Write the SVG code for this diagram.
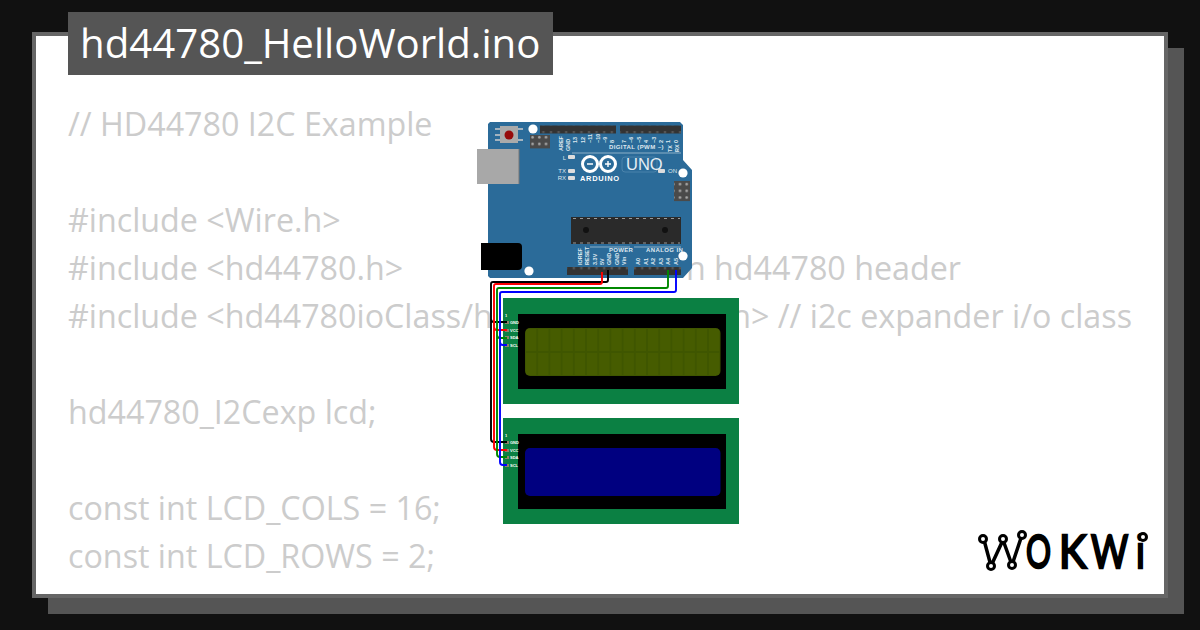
<svg xmlns="http://www.w3.org/2000/svg" width="1200" height="630" viewBox="0 0 1200 630">
<style>
.code{font-family:"Open Sans","Noto Sans",sans-serif;font-size:32.26px;fill:#ccc}
.title{font-family:"Open Sans","Noto Sans",sans-serif;font-size:40.2px;fill:#fff}
.hdr{fill:url(#holes)}
.pcb{font-family:"Liberation Sans",sans-serif;fill:#dfe8ef}
.pin{font-size:5.5px;font-weight:bold}
.lbl{font-family:"Liberation Sans",sans-serif;font-size:4px;font-weight:bold;fill:#fff}
.w{fill:none;stroke-width:1.9;stroke-linejoin:round}
.lp{fill:#8d8268}
.ring{fill:#fff;stroke:#000;stroke-width:3}
.logo{fill:none;stroke:#000;stroke-width:3.5;stroke-linecap:round;stroke-linejoin:round}
.lt{font-family:Lato,sans-serif;font-size:46px;fill:#000;stroke:#000;stroke-width:2.4px}
.hole{fill:#fff}
</style>
<defs>
<pattern id="holes" width="7.6" height="8" patternUnits="userSpaceOnUse"><rect width="7.6" height="8" fill="#333"/><rect x="2.6" y="3" width="2.4" height="2.4" fill="#555"/></pattern>
<pattern id="icsp" width="6.7" height="6.7" patternUnits="userSpaceOnUse"><rect width="6.7" height="6.7" fill="#4a4a4a"/><circle cx="3.3" cy="3.3" r="1.3" fill="#aaa"/></pattern>
<pattern id="cells" x="525" y="328" width="12.2" height="24" patternUnits="userSpaceOnUse"><rect width="12.2" height="24" fill="#3f5600"/><rect x="1" y="1" width="10.2" height="22" fill="#465c00"/></pattern>
</defs>
<rect width="1200" height="630" fill="#111"/>
<rect x="48" y="48" width="1136" height="566" fill="#555"/>
<rect x="34" y="34" width="1132" height="562" fill="#fff" stroke="#666" stroke-width="4"/>
<text class="code" x="68" y="136">// HD44780 I2C Example</text>
<text class="code" x="68" y="232">#include &lt;Wire.h&gt;</text>
<text class="code" x="68" y="280">#include &lt;hd44780.h&gt;</text>
<text class="code" x="961" y="280" text-anchor="end">n hd44780 header</text>
<text class="code" x="68" y="328">#include &lt;hd44780ioClass/h</text>
<text class="code" x="1132" y="328" text-anchor="end">h&gt; // i2c expander i/o class</text>
<text class="code" x="68" y="424">hd44780_I2Cexp lcd;</text>
<text class="code" x="68" y="520">const int LCD_COLS = 16;</text>
<text class="code" x="68" y="568">const int LCD_ROWS = 2;</text>
<rect x="68" y="12" width="485" height="63" fill="#555"/>
<text class="title" x="80" y="58">hd44780_HelloWorld.ino</text>

<g id="uno">
<path d="M490 122H680L683 125V160L692 170V268L683 278H490L488 276V124Z" fill="#2b6b99"/>
<rect x="477" y="149" width="42" height="35" fill="#a8a8a8"/>
<path d="M519 149V184" stroke="#777" fill="none"/>
<path d="M481 243H518Q522 243 522 247V266Q522 270 518 270H481Z" fill="#000"/>
<rect x="500" y="126" width="18" height="17" fill="#aaa"/>
<path d="M495 129h5M495 135h5M495 140h5M518 129h5M518 140h5" stroke="#ccc" stroke-width="1.4"/>
<circle cx="509" cy="135" r="4.5" fill="#960a0a"/>
<circle class="hole" cx="533" cy="129" r="4.6"/>
<circle class="hole" cx="529" cy="271" r="4.6"/>
<circle class="hole" cx="683" cy="173" r="4.6"/>
<circle class="hole" cx="683" cy="256" r="4.6"/>
<rect class="hdr" x="540" y="125.500" width="76" height="8"/>
<rect class="hdr" x="620" y="125.500" width="61" height="8"/>
<rect class="hdr" x="567" y="267" width="61" height="8"/>
<rect class="hdr" x="634" y="267" width="47" height="8"/>
<rect x="530" y="135" width="20" height="13.400" fill="url(#icsp)"/>
<rect x="674" y="181" width="16" height="20.100" fill="url(#icsp)"/>
<rect x="571" y="217" width="110" height="27" fill="#2a2a2a"/>
<circle cx="586" cy="230" r="3" fill="#111"/>
<circle cx="665" cy="230" r="3" fill="#111"/>
<path d="M573 218.500H680" stroke="#999" stroke-dasharray="3 4" fill="none"/>
<path d="M573 243H680" stroke="#999" stroke-dasharray="3 4" fill="none"/>
<rect x="568" y="155" width="7" height="4" rx="1" fill="#ddd"/>
<rect x="568" y="169" width="7" height="4" rx="1" fill="#ddd"/>
<rect x="568" y="176" width="7" height="4" rx="1" fill="#ddd"/>
<rect x="658" y="169" width="7" height="4" rx="1" fill="#ddd"/>
<text class="pcb" font-size="6" x="566" y="160" text-anchor="end">L</text>
<text class="pcb" font-size="6" x="566" y="173" text-anchor="end">TX</text>
<text class="pcb" font-size="6" x="566" y="180" text-anchor="end">RX</text>
<text class="pcb" font-size="6" x="668" y="173">ON</text>
<circle cx="590" cy="164" r="7.500" fill="none" stroke="#fff" stroke-width="3"/>
<circle cx="608" cy="164" r="7.500" fill="none" stroke="#fff" stroke-width="3"/>
<path d="M587 164h6M605 164h6M608 161v6" stroke="#fff" stroke-width="1.4"/>
<text x="580" y="181" font-family="Liberation Sans,sans-serif" font-size="7.500" font-weight="bold" fill="#fff" letter-spacing=".7">ARDUINO</text>
<rect x="622" y="157" width="35" height="15" rx="3" fill="none" stroke="#4b83ab"/>
<text x="626" y="170" font-family="Liberation Sans,sans-serif" font-size="16.500" fill="#e6eef4">UNO</text>
<text class="pcb" x="609" y="149" font-size="6" font-weight="bold" letter-spacing=".4">DIGITAL (PWM ~)</text>
<path d="M572 153H681M590 247H630M634 247H681" stroke="#cfdde8" stroke-width=".6" fill="none"/>
<g class="pcb pin" text-anchor="start">
<text transform="translate(563 151) rotate(-90)">AREF</text>
<text transform="translate(570 151) rotate(-90)">GND</text>
<text transform="translate(577 143) rotate(-90)">13</text>
<text transform="translate(585 143) rotate(-90)">12</text>
<text transform="translate(592 143) rotate(-90)">~11</text>
<text transform="translate(600 143) rotate(-90)">~10</text>
<text transform="translate(607 143) rotate(-90)">~9</text>
<text transform="translate(614 143) rotate(-90)">8</text>
<text transform="translate(626 143) rotate(-90)">7</text>
<text transform="translate(633 143) rotate(-90)">~6</text>
<text transform="translate(641 143) rotate(-90)">~5</text>
<text transform="translate(648 143) rotate(-90)">4</text>
<text transform="translate(656 143) rotate(-90)">~3</text>
<text transform="translate(663 143) rotate(-90)">2</text>
<text transform="translate(670 143) rotate(-90)">1</text>
<text transform="translate(678 143) rotate(-90)">0</text>
<text transform="translate(672 152) rotate(-90)">TX</text>
<text transform="translate(679 152) rotate(-90)">RX</text>
<text transform="translate(582 265) rotate(-90)">IOREF</text>
<text transform="translate(589 265) rotate(-90)">RESET</text>
<text transform="translate(597 265) rotate(-90)">3.3V</text>
<text transform="translate(604 265) rotate(-90)">5V</text>
<text transform="translate(611 265) rotate(-90)">GND</text>
<text transform="translate(619 265) rotate(-90)">GND</text>
<text transform="translate(626 265) rotate(-90)">Vin</text>
<text transform="translate(640 265) rotate(-90)">A0</text>
<text transform="translate(648 265) rotate(-90)">A1</text>
<text transform="translate(655 265) rotate(-90)">A2</text>
<text transform="translate(663 265) rotate(-90)">A3</text>
<text transform="translate(670 265) rotate(-90)">A4</text>
<text transform="translate(678 265) rotate(-90)">A5</text>
</g>
<text class="pcb" x="609" y="252" font-size="6" font-weight="bold" letter-spacing=".3">POWER</text>
<text class="pcb" x="646" y="252" font-size="6" font-weight="bold" letter-spacing=".4">ANALOG IN</text>
</g>

<g id="lcd1">
<rect x="503" y="298" width="236" height="106" fill="#0b8043"/>
<rect x="518" y="314" width="208" height="75" fill="#000"/>
<rect x="525" y="328" width="195.500" height="48" rx="5" fill="url(#cells)"/>
<rect class="lp" x="505" y="321" width="4" height="3"/><rect class="lp" x="505" y="329" width="4" height="3"/><rect class="lp" x="505" y="336" width="4" height="3"/><rect class="lp" x="505" y="344" width="4" height="3"/>
<text class="lbl" x="505" y="317">1</text>
<text class="lbl" x="510" y="324">GND</text><text class="lbl" x="510" y="331.500">VCC</text><text class="lbl" x="510" y="339">SDA</text><text class="lbl" x="510" y="347">SCL</text>
</g>
<g id="lcd2">
<rect x="503" y="418" width="236" height="106" fill="#0b8043"/>
<rect x="518" y="434" width="208" height="75" fill="#000"/>
<rect x="525" y="448" width="195.500" height="48" rx="5" fill="#000080"/>
<rect class="lp" x="505" y="441" width="4" height="3"/><rect class="lp" x="505" y="449" width="4" height="3"/><rect class="lp" x="505" y="456" width="4" height="3"/><rect class="lp" x="505" y="464" width="4" height="3"/>
<text class="lbl" x="505" y="437">1</text>
<text class="lbl" x="510" y="444">GND</text><text class="lbl" x="510" y="451.500">VCC</text><text class="lbl" x="510" y="459">SDA</text><text class="lbl" x="510" y="467">SCL</text>
</g>

<g id="connectors">
<path class="w" stroke="#000" d="M608 270V280Q608 282 606 282H493Q491 282 491 284V439Q491 442 494 442H507M491 319Q491 322 494 322H507"/>
<path class="w" stroke="#f00" d="M602 272V282Q602 284 600 284H496Q494 284 494 286V447Q494 450 497 450H507M494 327Q494 330 497 330H507"/>
<path class="w" stroke="#080" d="M668 270V286Q668 288 666 288H499Q497 288 497 290V454Q497 457 500 457H507M497 335Q497 338 500 338H507"/>
<path class="w" stroke="#00f" d="M676 270V290Q676 292 674 292H502Q500 292 500 294V462Q500 465 503 465H507M500 342Q500 345 503 345H507"/>
</g>

<g id="wokwi-logo">
<text class="lt" transform="translate(1026 568) scale(.68 1)">O</text>
<text class="lt" transform="translate(1059 568) scale(.9 1)">K</text>
<text class="lt" transform="translate(1091 568) scale(.78 1)">W</text>
<text class="lt" transform="translate(1136 568) scale(.8 1)">i</text>
<path class="logo" d="M984 540L991 566L1003 540L1012 565L1022 535"/>
<circle class="ring" cx="983" cy="539" r="3.500"/>
<circle class="ring" cx="1003" cy="539" r="3.500"/>
<circle class="ring" cx="1022" cy="535" r="3.500"/>
<circle class="ring" cx="991" cy="566" r="3.500"/>
<circle class="ring" cx="1012" cy="565" r="3.500"/>
<circle class="ring" cx="1143" cy="537" r="3.500"/>
</g>
</svg>
